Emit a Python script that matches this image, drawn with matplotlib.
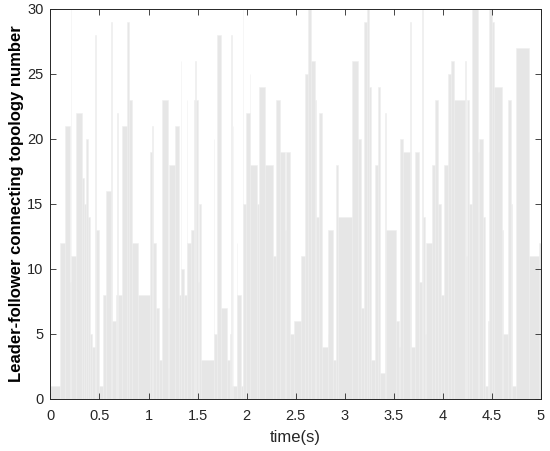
import matplotlib
matplotlib.use("Agg")
import matplotlib.pyplot as plt
import numpy as np

plt.rcParams['font.family'] = ['Liberation Sans', 'DejaVu Sans']

# switching instants (s) and topology numbers held from each instant
switch_times = [
    0.000, 0.095, 0.146, 0.197, 0.206, 0.211, 0.265, 0.320, 0.347, 0.360,
    0.380, 0.400, 0.428, 0.452, 0.469, 0.493, 0.540, 0.571, 0.620, 0.626,
    0.673, 0.683, 0.688, 0.730, 0.785, 0.800, 0.836, 0.898, 1.016, 1.040,
    1.045, 1.077, 1.110, 1.135, 1.195, 1.212, 1.273, 1.307, 1.330, 1.335,
    1.364, 1.388, 1.393, 1.432, 1.466, 1.475, 1.480, 1.500, 1.517, 1.534,
    1.664, 1.669, 1.700, 1.743, 1.804, 1.828, 1.844, 1.849, 1.860, 1.865,
    1.899, 1.904, 1.939, 1.962, 1.967, 1.990, 2.033, 2.038, 2.108, 2.125,
    2.192, 2.267, 2.300, 2.344, 2.390, 2.405, 2.446, 2.486, 2.555, 2.591,
    2.625, 2.659, 2.692, 2.706, 2.733, 2.767, 2.827, 2.834, 2.885, 2.909,
    2.936, 3.071, 3.138, 3.165, 3.196, 3.223, 3.246, 3.266, 3.307, 3.341,
    3.361, 3.409, 3.425, 3.527, 3.554, 3.568, 3.595, 3.669, 3.674, 3.679,
    3.713, 3.757, 3.790, 3.795, 3.814, 3.831, 3.892, 3.916, 3.950, 3.983,
    4.007, 4.050, 4.085, 4.118, 4.230, 4.235, 4.243, 4.270, 4.297, 4.355,
    4.372, 4.405, 4.432, 4.456, 4.473, 4.500, 4.523, 4.600, 4.614, 4.668,
    4.692, 4.709, 4.750, 4.878, 4.980, 5.000,
]
topology = [
    1, 12, 21, 9, 30, 11, 22, 17, 15, 20,
    14, 5, 4, 28, 13, 1, 8, 16, 29, 6,
    8, 22, 8, 21, 29, 23, 12, 8, 19, 21,
    12, 7, 3, 23, 7, 18, 21, 8, 26, 10,
    8, 23, 12, 13, 23, 26, 23, 9, 15, 3,
    20, 5, 28, 7, 3, 5, 28, 1, 21, 1,
    12, 8, 1, 30, 15, 22, 25, 18, 15, 24,
    18, 11, 23, 19, 13, 19, 5, 6, 11, 25,
    30, 26, 23, 14, 22, 4, 5, 13, 3, 18,
    14, 26, 20, 7, 29, 30, 24, 3, 18, 24,
    2, 22, 13, 6, 4, 20, 19, 29, 19, 4,
    19, 9, 30, 14, 5, 12, 18, 23, 15, 8,
    18, 25, 26, 23, 26, 11, 23, 15, 30, 19,
    20, 14, 1, 6, 30, 29, 24, 13, 5, 23,
    15, 1, 27, 11, 12,
]

x_ticks = [0, 0.5, 1, 1.5, 2, 2.5, 3, 3.5, 4, 4.5, 5]
x_tick_labels = ['0', '0.5', '1', '1.5', '2', '2.5', '3', '3.5', '4', '4.5', '5']
y_ticks = [0, 5, 10, 15, 20, 25, 30]

starts = np.array(switch_times[:-1])
widths = np.diff(switch_times)

fig = plt.figure(figsize=(5.5, 4.51), dpi=100)
ax = fig.add_axes([0.0916, 0.1153, 0.892, 0.865])

ax.bar(starts, topology, width=widths, align='edge',
       color='#e6e6e6', edgecolor='#efefef', linewidth=0.4)

ax.set_xlim(0, 5)
ax.set_ylim(0, 30)
ax.set_xticks(x_ticks)
ax.set_xticklabels(x_tick_labels)
ax.set_yticks(y_ticks)
ax.tick_params(direction='in', top=True, right=True, length=4,
               width=0.6, labelsize=10.5, colors='#262626')
ax.tick_params(axis='x', pad=7.5)
ax.tick_params(axis='y', pad=5)
for s in ax.spines.values():
    s.set_color('#262626')
    s.set_linewidth(0.7)

ax.set_xlabel('time(s)', fontsize=12, color='#262626', labelpad=5)
ax.set_ylabel('Leader-follower connecting topology number', fontsize=12,
              fontweight='bold', color='#000000', labelpad=2)

fig.savefig('out.png', dpi=100)
